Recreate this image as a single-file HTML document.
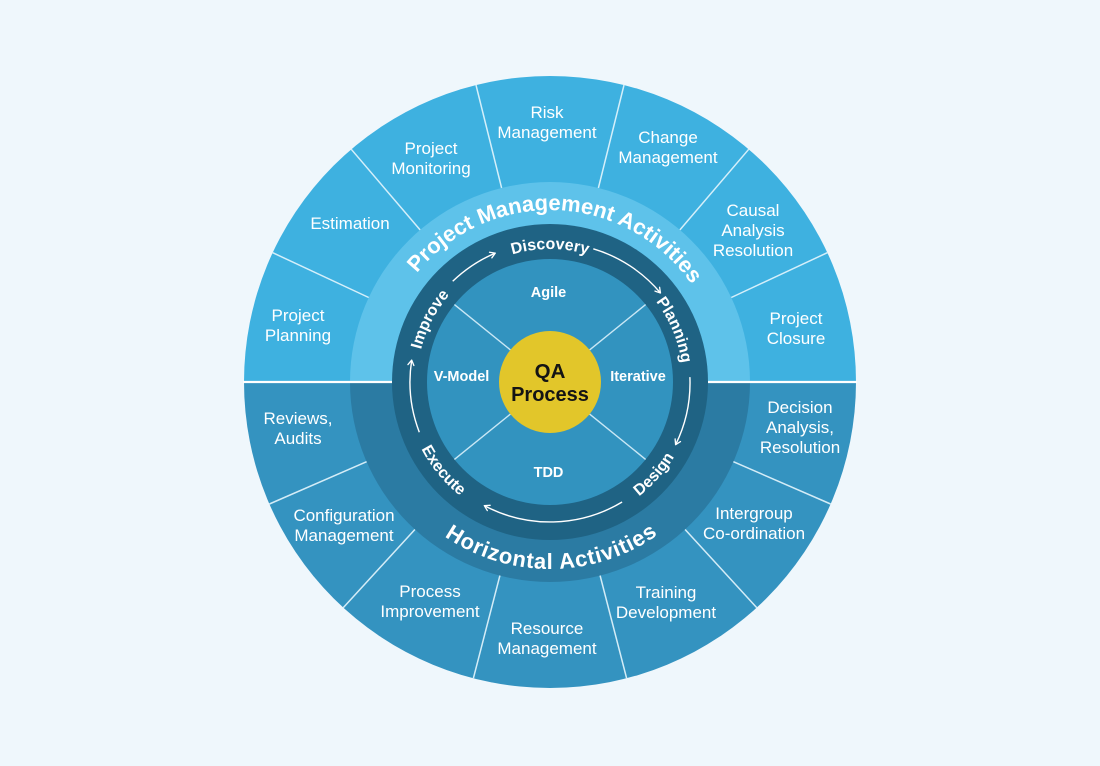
<!DOCTYPE html>
<html>
<head>
<meta charset="utf-8">
<style>
  html, body { margin: 0; padding: 0; background: #eff7fc; }
  body { width: 1100px; height: 766px; overflow: hidden; }
  svg { display: block; }
  text { font-family: "Liberation Sans", sans-serif; }
</style>
</head>
<body>
<svg width="1100" height="766" viewBox="0 0 1100 766" xmlns="http://www.w3.org/2000/svg">
  <defs>
    <marker id="arr" viewBox="0 0 8 8" refX="6.5" refY="4" markerWidth="8" markerHeight="8" markerUnits="userSpaceOnUse" orient="auto">
      <path d="M1.5,1 L6.5,4 L1.5,7" fill="none" stroke="#ffffff" stroke-width="1.3" stroke-linecap="round" stroke-linejoin="round"/>
    </marker>
    <path id="ringTop" d="M 417 382 A 133 133 0 0 1 683 382"/>
    <path id="ringBot" d="M 405 382 A 145 145 0 0 0 695 382"/>
    <path id="pmaPath" d="M 378 382 A 172 172 0 0 1 722 382"/>
    <path id="haPath" d="M 363 382 A 187 187 0 0 0 737 382"/>
  </defs>

  <rect x="0" y="0" width="1100" height="766" fill="#eff7fc"/>

  <!-- Outer ring halves -->
  <path d="M 244 382 A 306 306 0 0 1 856 382 Z" fill="#3eb1e0"/>
  <path d="M 244 382 A 306 306 0 0 0 856 382 Z" fill="#3493c0"/>

  <!-- Middle ring halves -->
  <path d="M 350 382 A 200 200 0 0 1 750 382 Z" fill="#5ec2ea"/>
  <path d="M 350 382 A 200 200 0 0 0 750 382 Z" fill="#2b7ba3"/>

  <!-- Dark ring -->
  <circle cx="550" cy="382" r="158" fill="#1f6384"/>
  <!-- Inner circle -->
  <circle cx="550" cy="382" r="123" fill="#3293bf"/>

  <!-- Outer dividers -->
  <g stroke="#e6f6fd" stroke-width="1.5" stroke-opacity="0.9">
    <line x1="368.7" y1="297.5" x2="272.7" y2="252.7"/>
    <line x1="420.1" y1="229.9" x2="351.3" y2="149.3"/>
    <line x1="501.6" y1="187.9" x2="476.0" y2="85.1"/>
    <line x1="598.4" y1="187.9" x2="624.0" y2="85.1"/>
    <line x1="679.9" y1="229.9" x2="748.7" y2="149.3"/>
    <line x1="731.3" y1="297.5" x2="827.3" y2="252.7"/>

    <line x1="733.4" y1="461.7" x2="830.6" y2="504.0"/>
    <line x1="685.1" y1="529.5" x2="756.7" y2="607.6"/>
    <line x1="600.1" y1="575.6" x2="626.6" y2="678.2"/>
    <line x1="499.9" y1="575.6" x2="473.4" y2="678.2"/>
    <line x1="414.9" y1="529.5" x2="343.3" y2="607.6"/>
    <line x1="366.6" y1="461.7" x2="269.4" y2="504.0"/>
  </g>

  <!-- Horizontal divider -->
  <g stroke="#ffffff" stroke-width="2.2">
    <line x1="243" y1="382" x2="392" y2="382"/>
    <line x1="708" y1="382" x2="857" y2="382"/>
  </g>

  <!-- Inner X lines -->
  <g stroke="#d9f1fb" stroke-width="1.4" stroke-opacity="0.9">
    <line x1="589.6" y1="414.1" x2="645.6" y2="459.4"/>
    <line x1="510.4" y1="414.1" x2="454.4" y2="459.4"/>
    <line x1="510.4" y1="349.9" x2="454.4" y2="304.6"/>
    <line x1="589.6" y1="349.9" x2="645.6" y2="304.6"/>
  </g>

  <!-- Yellow center -->
  <circle cx="550" cy="382" r="51" fill="#e2c62a"/>
  <text x="550" y="378" text-anchor="middle" font-size="20.5" font-weight="bold" fill="#141414">QA</text>
  <text x="550" y="401" text-anchor="middle" font-size="20" font-weight="bold" fill="#141414">Process</text>

  <!-- Inner labels -->
  <g fill="#ffffff" font-size="14.5" font-weight="bold" text-anchor="middle">
    <text x="548.5" y="297">Agile</text>
    <text x="461.5" y="381">V-Model</text>
    <text x="638" y="381">Iterative</text>
    <text x="548.5" y="477">TDD</text>
  </g>

  <!-- Cycle arrows -->
  <g fill="none" stroke="#ffffff" stroke-width="1.4" marker-end="url(#arr)">
    <path d="M 452.7 281.3 A 140 140 0 0 1 495.3 253.1"/>
    <path d="M 593.3 248.8 A 140 140 0 0 1 660.5 293"/>
    <path d="M 689.9 377.1 A 140 140 0 0 1 675.6 444.7"/>
    <path d="M 622.1 502.0 A 140 140 0 0 1 484.3 505.6"/>
    <path d="M 419.3 432.2 A 140 140 0 0 1 411.7 360.1"/>
  </g>

  <!-- Ring labels -->
  <g fill="#ffffff" font-size="16" font-weight="bold">
    <text><textPath href="#ringTop" startOffset="50%" text-anchor="middle">Discovery</textPath></text>
    <text><textPath href="#ringTop" startOffset="87.4%" text-anchor="middle">Planning</textPath></text>
    <text><textPath href="#ringTop" startOffset="15.3%" text-anchor="middle">Improve</textPath></text>
    <text><textPath href="#ringBot" startOffset="76.9%" text-anchor="middle">Design</textPath></text>
    <text><textPath href="#ringBot" startOffset="22%" text-anchor="middle">Execute</textPath></text>
  </g>

  <!-- Arc titles -->
  <text fill="#ffffff" font-size="22" font-weight="bold" letter-spacing="0"><textPath href="#pmaPath" startOffset="51.3%" text-anchor="middle">Project Management Activities</textPath></text>
  <text fill="#ffffff" font-size="22" font-weight="bold" letter-spacing="0.8"><textPath href="#haPath" startOffset="50.3%" text-anchor="middle">Horizontal Activities</textPath></text>

  <!-- Outer labels -->
  <g fill="#ffffff" font-size="17" text-anchor="middle">
    <text x="298" y="321">Project</text>
    <text x="298" y="341">Planning</text>

    <text x="350" y="229">Estimation</text>

    <text x="431" y="154">Project</text>
    <text x="431" y="174">Monitoring</text>

    <text x="547" y="118">Risk</text>
    <text x="547" y="138">Management</text>

    <text x="668" y="143">Change</text>
    <text x="668" y="163">Management</text>

    <text x="753" y="216">Causal</text>
    <text x="753" y="236">Analysis</text>
    <text x="753" y="256">Resolution</text>

    <text x="796" y="324">Project</text>
    <text x="796" y="344">Closure</text>

    <text x="298" y="424">Reviews,</text>
    <text x="298" y="444">Audits</text>

    <text x="344" y="521">Configuration</text>
    <text x="344" y="541">Management</text>

    <text x="430" y="597">Process</text>
    <text x="430" y="617">Improvement</text>

    <text x="547" y="634">Resource</text>
    <text x="547" y="654">Management</text>

    <text x="666" y="598">Training</text>
    <text x="666" y="618">Development</text>

    <text x="754" y="519">Intergroup</text>
    <text x="754" y="539">Co-ordination</text>

    <text x="800" y="413">Decision</text>
    <text x="800" y="433">Analysis,</text>
    <text x="800" y="453">Resolution</text>
  </g>
</svg>
</body>
</html>
